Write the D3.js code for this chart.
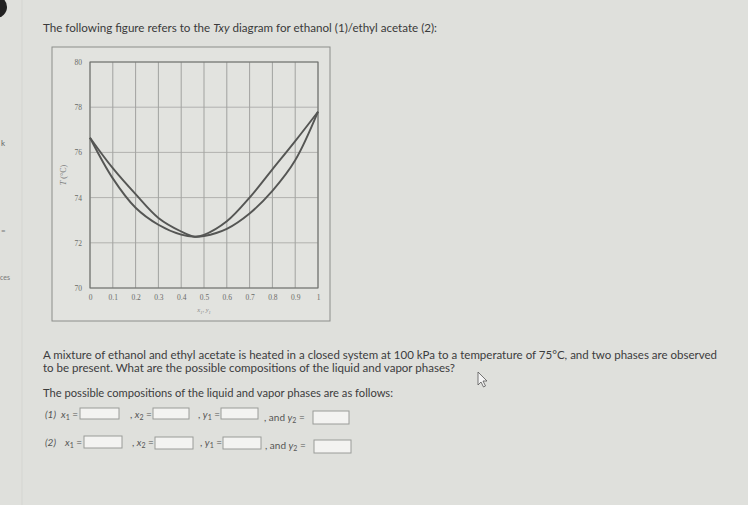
<!DOCTYPE html>
<html><head><meta charset="utf-8">
<script src="https://cdn.jsdelivr.net/npm/d3@7"></script>
<style>
html,body{margin:0;padding:0;background:#dfe0dc;}
svg{display:block;}
</style></head>
<body>
<svg id="c" width="748" height="505"></svg>
<script>
// ---- data ----
const xTicks = [0,0.1,0.2,0.3,0.4,0.5,0.6,0.7,0.8,0.9,1];
const xTickLabels = ["0","0.1","0.2","0.3","0.4","0.5","0.6","0.7","0.8","0.9","1"];
const yTicks = [70,72,74,76,78,80];
const compX   = [0,0.1,0.2,0.3,0.4,0.46,0.5,0.6,0.7,0.8,0.9,1];
const bubbleT = [76.65,74.85,73.55,72.8,72.36,72.27,72.3,72.62,73.3,74.3,75.65,77.8];
const dewT    = [76.65,75.3,74.15,73.1,72.5,72.27,72.35,72.95,74.0,75.25,76.5,77.8];

const svg = d3.select("#c");
const sans = "Lato, 'Open Sans', sans-serif";
const serif = "'Liberation Serif', 'DejaVu Serif', serif";

// background
svg.append("rect").attr("width",748).attr("height",505).attr("fill","#dfe0dc");
// sidebar remnants
svg.append("circle").attr("cx",-4).attr("cy",7).attr("r",11).attr("fill","#222");
svg.append("line").attr("x1",22).attr("x2",22).attr("y1",0).attr("y2",505).attr("stroke","#d4d5d1");
svg.append("text").attr("x",1).attr("y",146).text("k").attr("font-family",sans).attr("font-size",8).attr("fill","#666");
svg.append("text").attr("x",1).attr("y",233).text("=").attr("font-family",sans).attr("font-size",8).attr("fill","#777");
svg.append("text").attr("x",0).attr("y",280).text("ces").attr("font-family",sans).attr("font-size",7).attr("fill","#777");

// title
const title = svg.append("text").attr("x",43).attr("y",32).attr("font-family",sans).attr("font-size",11)
  .attr("fill","#3a3a3a").attr("textLength",394).attr("lengthAdjust","spacingAndGlyphs");
title.append("tspan").text("The following figure refers to the ");
title.append("tspan").attr("font-style","italic").text("Txy");
title.append("tspan").text(" diagram for ethanol (1)/ethyl acetate (2):");

// chart box
svg.append("rect").attr("x",52).attr("y",47).attr("width",278).attr("height",274)
  .attr("fill","#e2e3df").attr("stroke","#8c8d8a").attr("stroke-width",1);

const L=90,R=318,T=62,B=288;
const x = d3.scaleLinear().domain([0,1]).range([L,R]);
const y = d3.scaleLinear().domain([70,80]).range([B,T]);

const g = svg.append("g");
// grid
g.selectAll(".vg").data(xTicks).join("line")
  .attr("x1",d=>x(d)).attr("x2",d=>x(d)).attr("y1",T).attr("y2",B)
  .attr("stroke","#9a9b98").attr("stroke-width",0.9);
g.selectAll(".hg").data(yTicks).join("line")
  .attr("x1",L).attr("x2",R).attr("y1",d=>y(d)).attr("y2",d=>y(d))
  .attr("stroke","#a4a5a2").attr("stroke-width",0.8);
g.append("rect").attr("x",L).attr("y",T).attr("width",R-L).attr("height",B-T)
  .attr("fill","none").attr("stroke","#6d6e6b").attr("stroke-width",1);

// axes labels via d3 axes
const xAxis = d3.axisBottom(x).tickValues(xTicks).tickFormat((d,i)=>xTickLabels[i]).tickSize(0).tickPadding(7);
const gx = g.append("g").attr("transform",`translate(0,${B})`).call(xAxis);
const yAxis = d3.axisLeft(y).tickValues(yTicks).tickFormat(d3.format("d")).tickSize(0).tickPadding(8);
const gy = g.append("g").attr("transform",`translate(${L},0)`).call(yAxis);
[gx,gy].forEach(a=>{
  a.select(".domain").remove();
  a.selectAll("text").attr("font-family",serif).attr("font-size",7.5).attr("fill","#6a6b68");
});

// axis titles
const yt = g.append("text").attr("transform",`translate(66,${(T+B)/2}) rotate(-90)`)
  .attr("text-anchor","middle").attr("font-family",serif).attr("font-size",8).attr("fill","#777");
yt.append("tspan").attr("font-style","italic").text("T");
yt.append("tspan").text(" (°C)");
const xt = g.append("text").attr("x",x(0.5)).attr("y",312).attr("text-anchor","middle")
  .attr("font-family",serif).attr("font-size",6.5).attr("fill","#888").attr("font-style","italic");
xt.append("tspan").text("x");
xt.append("tspan").attr("font-size",4.5).attr("dy",1.5).text("1");
xt.append("tspan").attr("dy",-1.5).text(", y");
xt.append("tspan").attr("font-size",4.5).attr("dy",1.5).text("1");

// curves
const line = d3.line().x(d=>x(d[0])).y(d=>y(d[1])).curve(d3.curveCatmullRom.alpha(0.5));
const bubble = compX.map((v,i)=>[v,bubbleT[i]]);
const dew = compX.map((v,i)=>[v,dewT[i]]);
[bubble,dew].forEach(s=>{
  g.append("path").attr("d",line(s)).attr("fill","none").attr("stroke","#555654").attr("stroke-width",1.9);
});

// paragraph
const para = [
  {t:"A mixture of ethanol and ethyl acetate is heated in a closed system at 100 kPa to a temperature of 75°C, and two phases are observed", y:359, w:674},
  {t:"to be present. What are the possible compositions of the liquid and vapor phases?", y:371.5, w:412},
  {t:"The possible compositions of the liquid and vapor phases are as follows:", y:397, w:350}
];
para.forEach(p=>{
  svg.append("text").attr("x",43).attr("y",p.y).text(p.t).attr("font-family",sans).attr("font-size",10.5)
    .attr("fill","#3c3c3c").attr("textLength",p.w).attr("lengthAdjust","spacingAndGlyphs");
});

// answer rows
const rows = [
  {label:"(1)", y:418, boxes:[[80,408,39,11],[153,408,36,11],[221,408,37,11],[313,411,36,13]]},
  {label:"(2)", y:446, boxes:[[84,436,38,12],[155,437,38,12],[223,437,38,12],[314,440,37,13]]}
];
const vars = [["x","1"],["x","2"],["y","1"],["y","2"]];
rows.forEach(r=>{
  svg.append("text").attr("x",45).attr("y",r.y).text(r.label).attr("font-family",sans)
    .attr("font-size",10).attr("font-style","italic").attr("fill","#555");
  r.boxes.forEach((b,i)=>{
    svg.append("rect").attr("x",b[0]).attr("y",b[1]).attr("width",b[2]).attr("height",b[3])
      .attr("fill","#f3f3f1").attr("stroke","#9a9b98").attr("stroke-width",1);
    const prefix = i===0 ? "" : (i===3 ? ", and " : ", ");
    const lx = i===0 ? b[0]-19 : (i===3 ? b[0]-49 : b[0]-23);
    const t = svg.append("text").attr("x",lx).attr("y",r.y + (i===3?3:0)).attr("font-family",sans)
      .attr("font-size",10).attr("fill","#555");
    if(prefix) t.append("tspan").text(prefix);
    t.append("tspan").attr("font-style","italic").text(vars[i][0]);
    t.append("tspan").attr("font-size",7).attr("dy",2).text(vars[i][1]);
    t.append("tspan").attr("dy",-2).text(" =");
  });
});

// cursor
svg.append("path").attr("d","M478,372 L478,385 L481,382 L483.5,387 L485.5,386 L483,381 L487,381 Z")
  .attr("fill","#f4f4f4").attr("stroke","#555").attr("stroke-width",0.8);
</script>
</body></html>
